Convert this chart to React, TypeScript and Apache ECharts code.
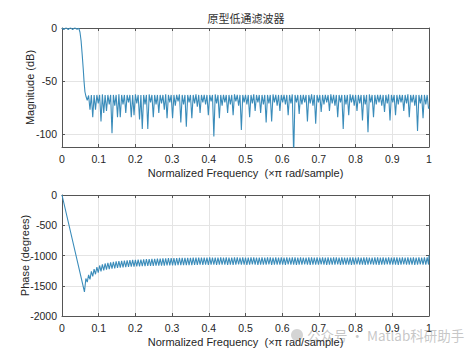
import React, { useEffect, useRef } from "react";
import * as echarts from "echarts";

// ---------- tick labels ----------
const freqTicks = [0, 0.1, 0.2, 0.3, 0.4, 0.5, 0.6, 0.7, 0.8, 0.9, 1];
const magTicks = [0, -50, -100];
const phaseTicks = [0, -500, -1000, -1500, -2000];

// ---------- magnitude response (dB) ----------
// passband + transition band: [normalized frequency, dB]
const magHead: [number, number][] = [
  [0, 0], [0.005, -1.4], [0.011, 0.3], [0.017, -1.4], [0.023, 0.3],
  [0.029, -1.4], [0.035, 0.3], [0.041, -1.2], [0.046, -0.3], [0.049, -4],
  [0.052, -12], [0.055, -25], [0.058, -39], [0.060, -50], [0.0625, -60],
];
// stopband lobes on the freqz grid: peak, then dip (grid step 0.00375 from 0.065)
const stopStart = 0.065;
const stopHalfStep = 0.00375;
const magPeaks = [
  -64, -63.5, -63, -63, -63, -63, -62.5, -63, -63, -63,
  -63, -63, -62.5, -63, -63, -63, -63, -63, -62.5, -63,
  -63, -63, -63, -62.5, -63, -63, -63, -63, -63, -62.5,
  -63, -63, -63, -63, -62.5, -63, -63, -63, -63, -63,
  -62.5, -63, -63, -63, -63, -63, -63, -62.5, -63, -63,
  -63, -63, -63, -63, -62.5, -63, -63, -63, -63, -63,
  -63, -62.5, -63, -63, -63, -63, -63, -63, -62.5, -63,
  -63, -63, -63, -63, -63, -62.5, -63, -63, -63, -63,
  -63, -63, -62.5, -63, -63, -63, -63, -63, -63, -62.5,
  -63, -63, -63, -63, -63, -63, -62.5, -63, -63, -63,
  -63, -63, -63, -62.5, -63, -63, -63, -63, -63, -63,
  -62.5, -63, -63, -63, -63, -63, -63, -62.5, -63, -63,
  -63, -63, -63, -63, -63,
];
const magDips = [
  -68, -77, -84, -77, -71, -88, -80, -78, -72, -99,
  -73, -84, -84, -72, -80, -70, -84, -82, -71, -86,
  -95, -72, -95, -70, -84, -72, -80, -71, -77, -85,
  -70, -85, -73, -69, -89, -72, -93, -70, -85, -71,
  -74, -80, -70, -72, -82, -69, -102, -71, -85, -73,
  -70, -80, -72, -82, -69, -73, -96, -70, -72, -84,
  -71, -78, -70, -80, -72, -89, -71, -88, -70, -73,
  -78, -70, -72, -82, -71, -120, -70, -81, -72, -70,
  -88, -71, -73, -90, -70, -79, -72, -70, -78, -71,
  -73, -84, -70, -95, -72, -82, -70, -73, -78, -71,
  -87, -72, -98, -70, -84, -72, -70, -73, -79, -71,
  -87, -70, -82, -72, -70, -78, -71, -84, -70, -73,
  -97, -71, -85, -72, -76,
];
const magEnd: [number, number] = [1, -74];

// ---------- phase response (degrees) ----------
const phaseHead: [number, number][] = [[0, 0], [0.0612, -1602]];
const phaseTops = [
  -1380, -1320, -1262, -1225, -1192, -1165, -1145, -1132, -1120, -1112,
  -1105, -1098, -1092, -1088, -1085, -1080, -1078, -1074, -1072, -1068,
  -1066, -1064, -1060, -1058, -1056, -1054, -1052, -1050, -1048, -1046,
  -1045, -1044, -1042, -1041, -1040, -1040, -1038, -1038, -1037, -1036,
  -1035, -1034, -1036, -1033, -1035, -1032, -1034, -1036, -1033, -1031,
  -1034, -1032, -1035, -1033, -1030, -1032, -1034, -1031, -1033, -1035,
  -1032, -1030, -1033, -1035, -1031, -1034, -1032, -1030, -1033, -1031,
  -1034, -1032, -1035, -1031, -1033, -1030, -1032, -1034, -1031, -1033,
  -1035, -1032, -1030, -1033, -1031, -1034, -1032, -1035, -1031, -1033,
  -1030, -1032, -1034, -1031, -1033, -1035, -1032, -1030, -1033, -1031,
  -1034, -1032, -1030, -1033, -1035, -1031, -1032, -1034, -1030, -1033,
  -1031, -1035, -1032, -1030, -1034, -1031, -1033, -1032, -1035, -1030,
  -1033, -1031, -1034, -1032, -1030,
];
const phaseBottoms = [
  -1440, -1395, -1345, -1310, -1282, -1262, -1246, -1234, -1225, -1218,
  -1212, -1206, -1200, -1196, -1192, -1188, -1185, -1183, -1180, -1178,
  -1176, -1175, -1173, -1172, -1170, -1169, -1168, -1167, -1166, -1165,
  -1164, -1163, -1162, -1161, -1160, -1160, -1159, -1158, -1158, -1157,
  -1155, -1153, -1156, -1152, -1154, -1150, -1153, -1155, -1151, -1153,
  -1150, -1154, -1152, -1155, -1151, -1149, -1153, -1150, -1154, -1152,
  -1148, -1152, -1155, -1150, -1153, -1151, -1149, -1154, -1152, -1150,
  -1153, -1151, -1155, -1149, -1152, -1150, -1154, -1151, -1153, -1149,
  -1152, -1155, -1150, -1153, -1151, -1148, -1152, -1154, -1150, -1153,
  -1151, -1149, -1154, -1152, -1150, -1153, -1155, -1151, -1149, -1152,
  -1150, -1154, -1152, -1149, -1153, -1151, -1155, -1150, -1152, -1148,
  -1153, -1151, -1150, -1154, -1152, -1149, -1153, -1151, -1150, -1154,
  -1152, -1149, -1153, -1151, -1150,
];
const phaseEnd: [number, number] = [1, -1000];

const titleText = "原型低通滤波器";
const xName = "Normalized Frequency \u00a0(×π rad/sample)";
const magName = "Magnitude (dB)";
const phaseName = "Phase (degrees)";
const watermark = "公众号 · Matlab科研助手";

function buildSeries(head: [number, number][], hi: number[], lo: number[], end: [number, number]) {
  const out: [number, number][] = head.slice();
  for (let k = 0; k < hi.length; k++) {
    out.push([stopStart + 2 * k * stopHalfStep, hi[k]]);
    out.push([stopStart + (2 * k + 1) * stopHalfStep, lo[k]]);
  }
  out.push(end);
  return out;
}

const FONT = "'Liberation Sans', Arial, sans-serif";
const AXIS = "#555555";
const TEXT = "#262626";
const GRIDLINE = "#e4e4e4";
const LINE = "#3a8cba";

function fmtFreq(v: number) {
  const t = freqTicks.find((x) => Math.abs(x - v) < 1e-6);
  return t === undefined ? "" : String(t);
}

export default function App() {
  const ref = useRef<HTMLDivElement>(null);
  useEffect(() => {
    if (!ref.current) return;
    const chart = echarts.init(ref.current, undefined, { renderer: "svg" });
    const magData = buildSeries(magHead, magPeaks, magDips, magEnd);
    const phaseData = buildSeries(phaseHead, phaseTops, phaseBottoms, phaseEnd);

    const mainX = (gi: number) => ({
      gridIndex: gi,
      type: "value",
      min: 0,
      max: 1,
      interval: 0.1,
      position: "bottom",
      axisLine: { show: true, onZero: false, lineStyle: { color: AXIS, width: 1 } },
      axisTick: { show: true, inside: true, length: 3, lineStyle: { color: AXIS } },
      axisLabel: { color: TEXT, fontSize: 10.5, fontFamily: FONT, margin: 6, formatter: fmtFreq },
      splitLine: { show: true, lineStyle: { color: GRIDLINE, width: 1 } },
      name: xName,
      nameLocation: "middle",
      nameGap: 20,
      nameMoveOverlap: false,
      nameTextStyle: { color: TEXT, fontSize: 11, fontFamily: FONT },
    });
    const topX = (gi: number) => ({
      gridIndex: gi,
      type: "value",
      min: 0,
      max: 1,
      interval: 0.1,
      position: "top",
      axisLine: { show: true, onZero: false, lineStyle: { color: AXIS, width: 1 } },
      axisTick: { show: true, inside: true, length: 3, lineStyle: { color: AXIS } },
      axisLabel: { show: false },
      splitLine: { show: false },
    });
    const yCommon = (gi: number, pos: string, min: number, max: number, extra: any) => ({
      gridIndex: gi,
      type: "value",
      min,
      max,
      position: pos,
      axisLine: { show: true, onZero: false, lineStyle: { color: AXIS, width: 1 } },
      axisTick: { show: true, inside: true, length: 3, lineStyle: { color: AXIS } },
      ...extra,
    });

    chart.setOption({
      animation: false,
      backgroundColor: "#ffffff",
      grid: [
        { left: 62, right: 45, top: 28, height: 119, outerBoundsMode: "none" },
        { left: 62, right: 45, top: 195, height: 121, outerBoundsMode: "none" },
      ],
      xAxis: [mainX(0), topX(0), mainX(1), topX(1)],
      yAxis: [
        yCommon(0, "left", -112, 0, {
          splitNumber: 2,
          axisLabel: {
            color: TEXT,
            fontSize: 10.5,
            fontFamily: FONT,
            margin: 5,
            formatter: (v: number) => (magTicks.includes(v) ? String(v) : ""),
          },
          splitLine: { show: true, lineStyle: { color: GRIDLINE, width: 1 } },
          name: magName,
          nameLocation: "middle",
          nameGap: 27,
          nameMoveOverlap: false,
          nameTextStyle: { color: TEXT, fontSize: 11, fontFamily: FONT },
        }),
        yCommon(0, "right", -112, 0, {
          splitNumber: 2,
          axisLabel: { show: false },
          splitLine: { show: false },
        }),
        yCommon(1, "left", -2000, 0, {
          interval: 500,
          axisLabel: {
            color: TEXT,
            fontSize: 10.5,
            fontFamily: FONT,
            margin: 5,
            formatter: (v: number) => (phaseTicks.includes(v) ? String(v) : ""),
          },
          splitLine: { show: true, lineStyle: { color: GRIDLINE, width: 1 } },
          name: phaseName,
          nameLocation: "middle",
          nameGap: 32,
          nameMoveOverlap: false,
          nameTextStyle: { color: TEXT, fontSize: 11, fontFamily: FONT },
        }),
        yCommon(1, "right", -2000, 0, {
          interval: 500,
          axisLabel: { show: false },
          splitLine: { show: false },
        }),
      ],
      series: [
        {
          type: "line",
          xAxisIndex: 0,
          yAxisIndex: 0,
          data: magData,
          showSymbol: false,
          clip: true,
          lineStyle: { color: LINE, width: 1.1 },
          itemStyle: { color: LINE },
        },
        {
          type: "line",
          xAxisIndex: 2,
          yAxisIndex: 2,
          data: phaseData,
          showSymbol: false,
          clip: true,
          lineStyle: { color: LINE, width: 1.1 },
          itemStyle: { color: LINE },
        },
      ],
      graphic: [
        {
          type: "text",
          x: 246,
          y: 18,
          style: {
            text: titleText,
            align: "center",
            verticalAlign: "middle",
            fontSize: 11,
            fontFamily: "'Noto Sans CJK SC', sans-serif",
            fill: "#333333",
          },
        },
        {
          type: "group",
          z: 100,
          children: [
            {
              type: "circle",
              shape: { cx: 297, cy: 335, r: 6 },
              style: { fill: "#c9c9c9", opacity: 0.8 },
            },
            {
              type: "text",
              x: 307,
              y: 335,
              style: {
                text: watermark,
                align: "left",
                verticalAlign: "middle",
                fontSize: 13.5,
                fontFamily: "'Noto Sans CJK SC', sans-serif",
                fill: "#bdbdbd",
                opacity: 0.85,
              },
            },
          ],
        },
      ],
    });
    return () => chart.dispose();
  }, []);
  return (
    <div
      ref={ref}
      style={{ position: "fixed", left: 0, top: 0, width: 474, height: 355, background: "#fff" }}
    />
  );
}
